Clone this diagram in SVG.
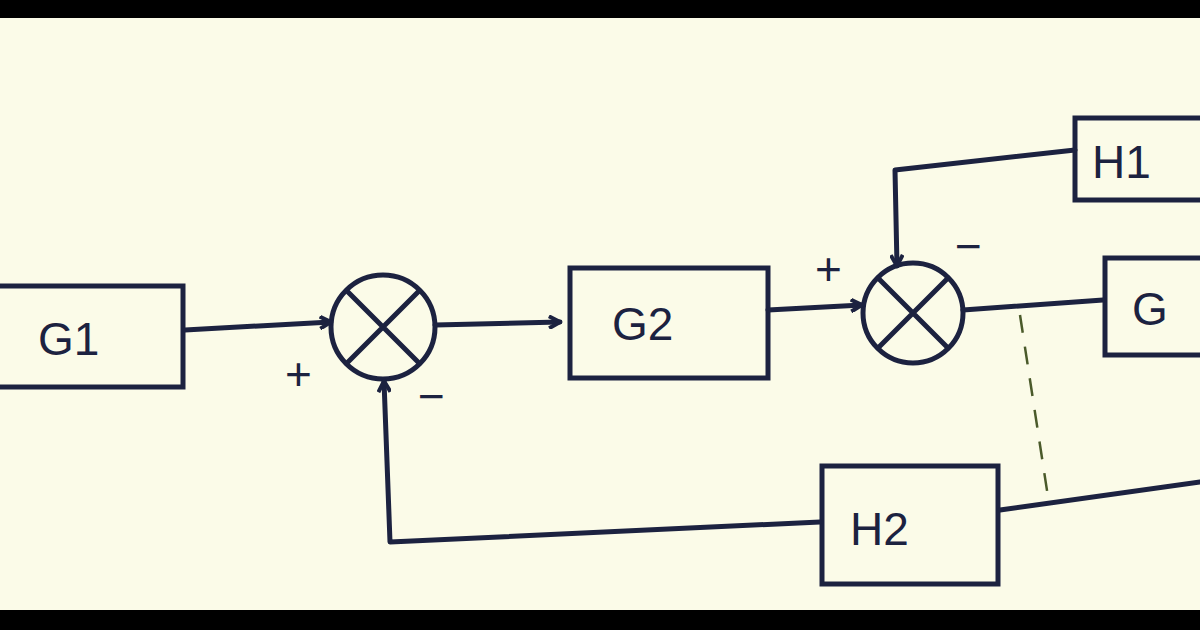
<svg xmlns="http://www.w3.org/2000/svg" width="1200" height="630" viewBox="0 0 1200 630">
<defs>
<style>
.s{fill:none;stroke:#1c2240;stroke-width:5;stroke-linecap:round;stroke-linejoin:round}
.b{fill:none;stroke:#1c2240;stroke-width:5}
.t{font-family:"Liberation Sans",sans-serif;font-size:46px;fill:#1c2240}
</style>
<marker id="a" markerWidth="14" markerHeight="14" refX="12" refY="7" orient="auto" markerUnits="userSpaceOnUse">
<path d="M1,1 L12,7 L1,13" fill="none" stroke="#1c2240" stroke-width="4"/>
</marker>
</defs>
<rect width="1200" height="630" fill="#fbfbe8"/>
<rect width="1200" height="18" fill="#000"/>
<rect y="610" width="1200" height="20" fill="#000"/>
<g id="G1"><rect class="b" x="-10" y="286" width="193" height="101"/><text class="t" x="38" y="355">G1</text></g>
<g id="S1"><circle class="s" cx="383" cy="327" r="52"/><path class="s" d="M347,291 L419,363 M347,363 L419,291"/></g>
<g id="G2"><rect class="b" x="570" y="268" width="198" height="110"/><text class="t" x="612" y="340">G2</text></g>
<g id="S2"><circle class="s" cx="913" cy="313" r="50"/><path class="s" d="M878,278 L948,348 M878,348 L948,278"/></g>
<g id="H1"><rect class="b" x="1075" y="118" width="140" height="82"/><text class="t" x="1092" y="178">H1</text></g>
<g id="G3"><rect class="b" x="1105" y="258" width="110" height="97"/><text class="t" x="1132" y="325">G</text></g>
<g id="H2"><rect class="b" x="822" y="466" width="176" height="118"/><text class="t" x="850" y="545">H2</text></g>
<g id="labels" class="t">
<text x="285" y="390">+</text><text x="418" y="412">−</text>
<text x="815" y="285">+</text><text x="955" y="262">−</text>
</g>
<g id="connectors">
<path class="s" d="M185,330 L331,322" marker-end="url(#a)"/>
<path class="s" d="M435,325 L560,322" marker-end="url(#a)"/>
<path class="s" d="M768,310 L862,305" marker-end="url(#a)"/>
<path class="s" d="M1075,150 L895,170 L897,266" marker-end="url(#a)"/>
<path class="s" d="M963,310 L1103,300"/>
<path class="s" d="M1000,510 L1200,482"/>
<path class="s" d="M820,522 L390,542 L384,381" marker-end="url(#a)"/>
<path d="M1020,315 L1048,497" stroke="#4a5a2a" stroke-width="2.5" stroke-dasharray="18,14" fill="none"/>
</g>
</svg>
